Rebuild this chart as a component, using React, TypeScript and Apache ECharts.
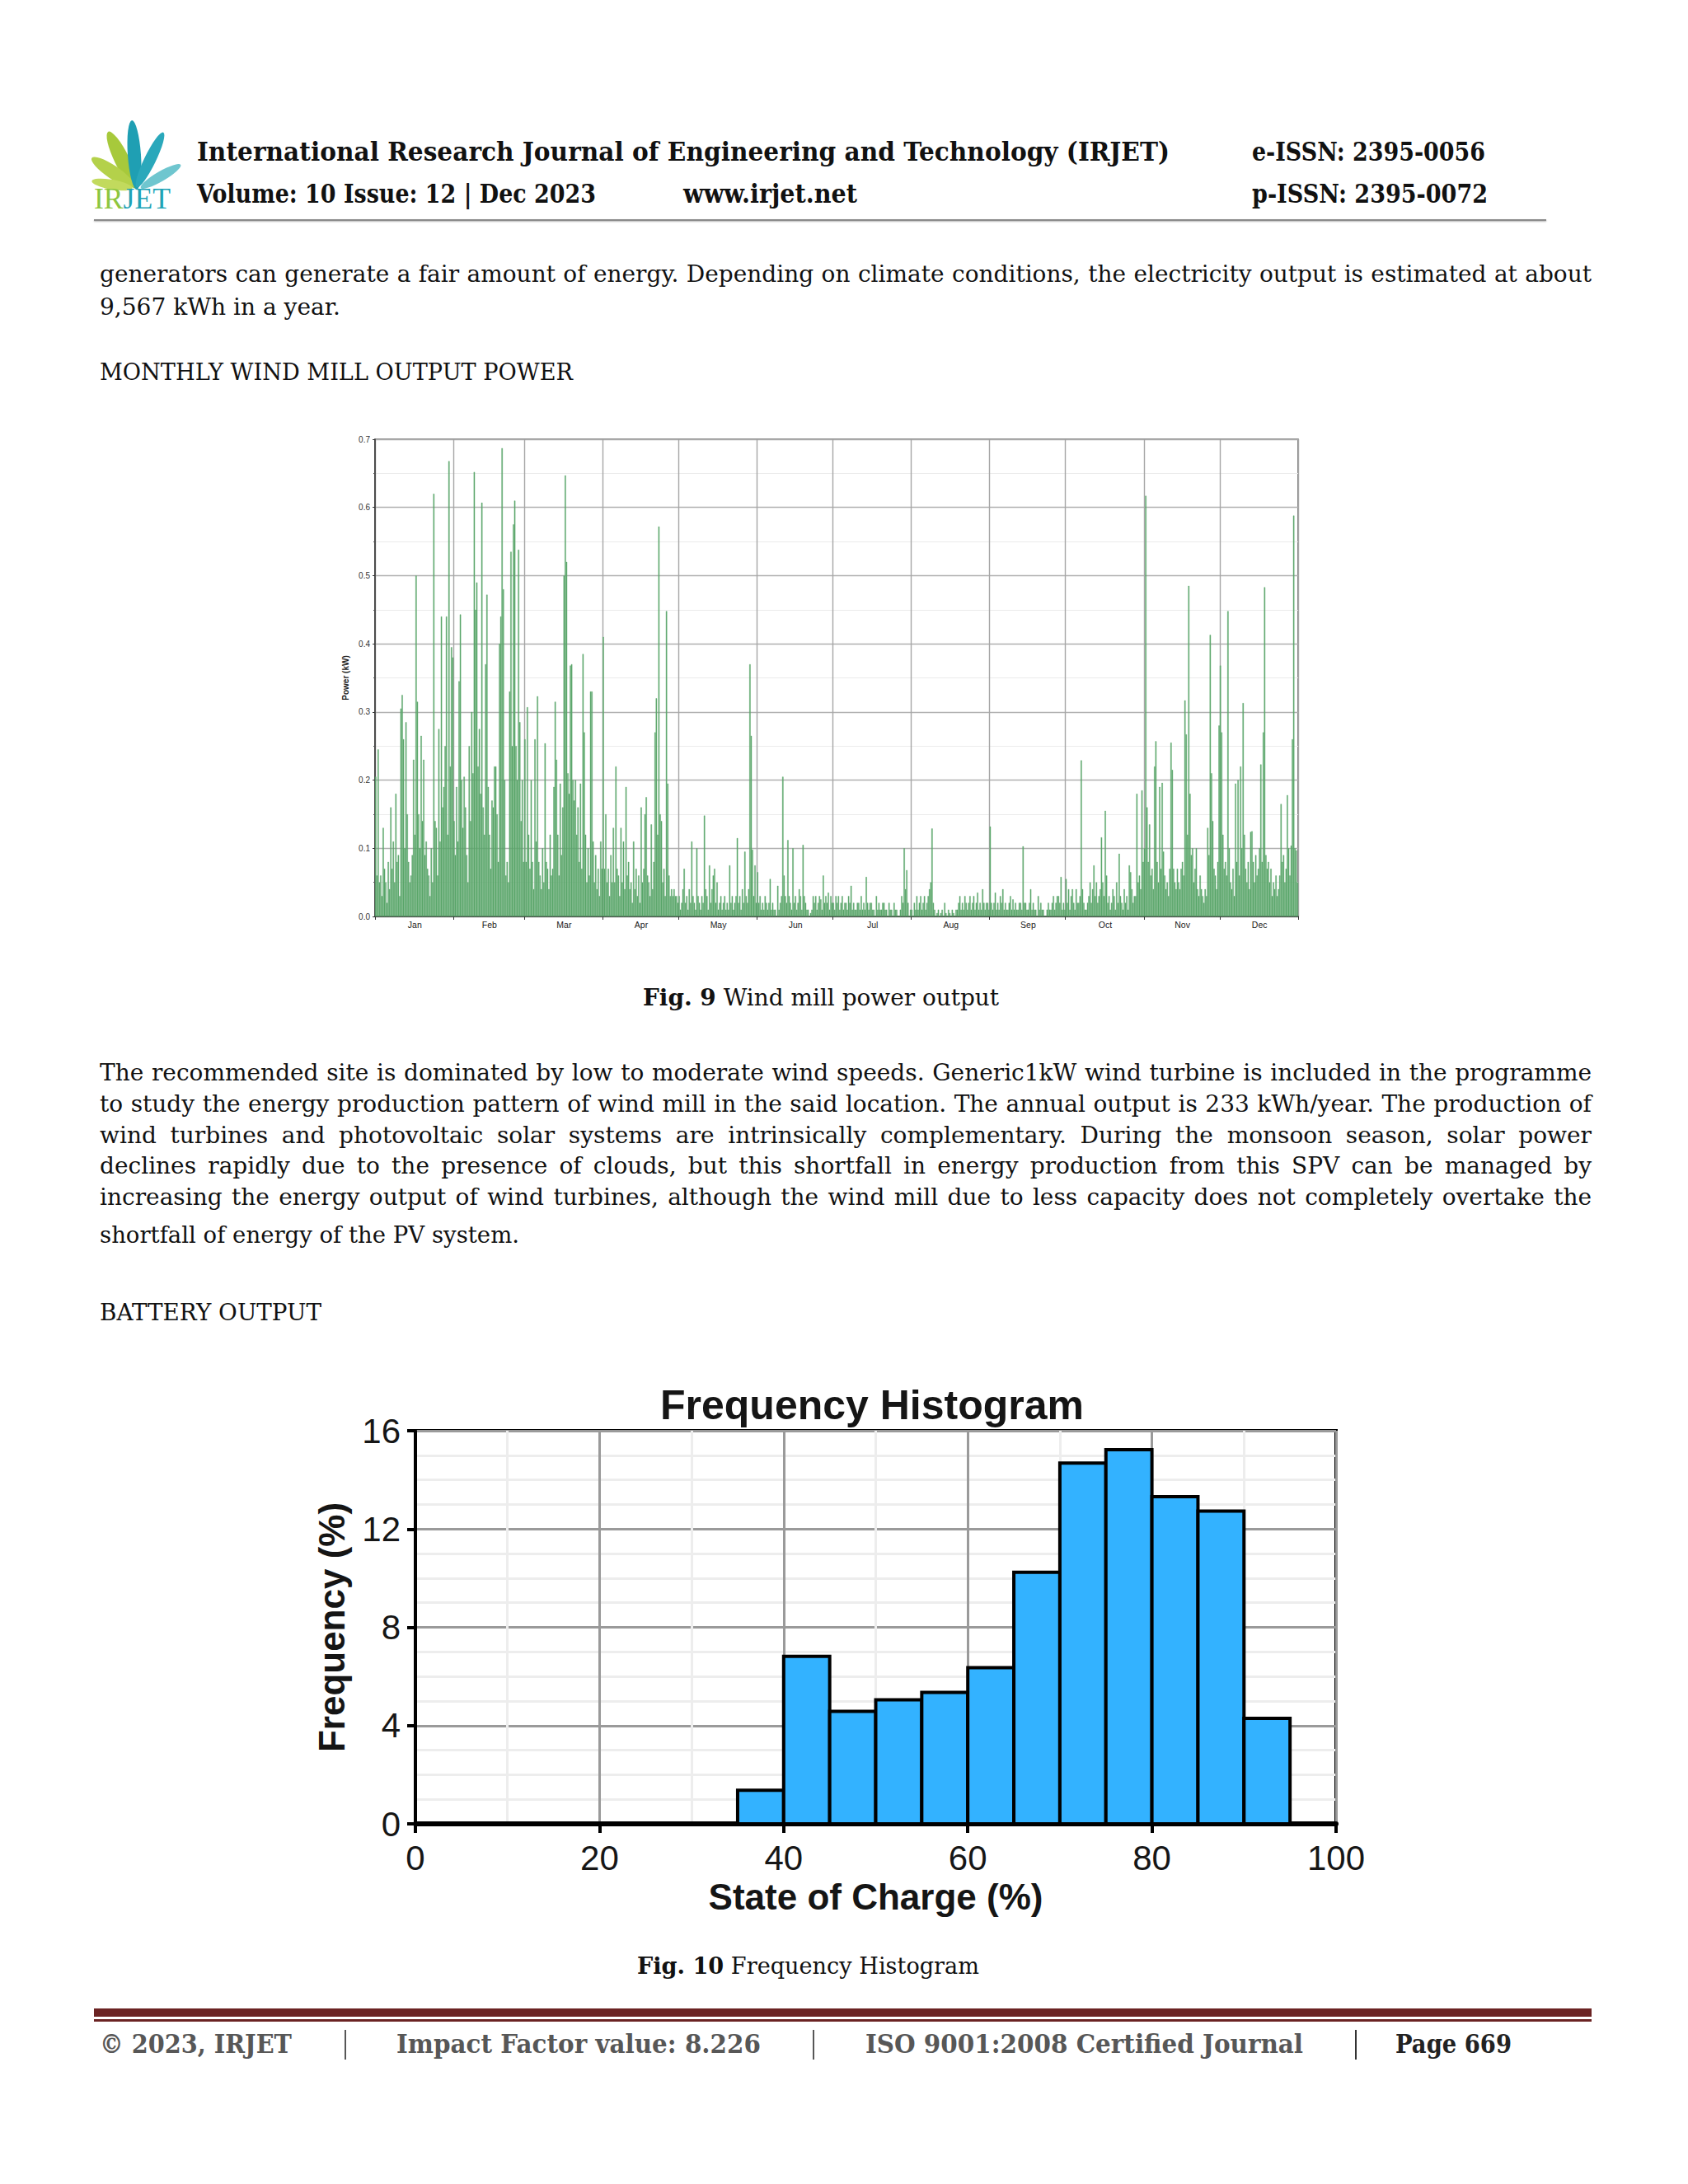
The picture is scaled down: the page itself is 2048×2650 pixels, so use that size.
import React, { useEffect, useLayoutEffect, useRef } from "react";
import * as echarts from "echarts";

// ---------------- DATA ----------------
const monthNames = ["Jan", "Feb", "Mar", "Apr", "May", "Jun", "Jul", "Aug", "Sep", "Oct", "Nov", "Dec"];
const monthDays = [31, 28, 31, 30, 31, 30, 31, 31, 30, 31, 30, 31];
const SLOTS_PER_DAY = 2; // two readings per day (kW)

const janPower = [
  0.205, 0.06, 0.245, 0.05, 0.06, 0.03, 0.13, 0.07, 0.05, 0.02,
  0.08, 0.04, 0.16, 0.07, 0.11, 0.05, 0.18, 0.08, 0.09, 0.03,
  0.305, 0.325, 0.26, 0.1, 0.285, 0.15, 0.08, 0.05, 0.06, 0.09,
  0.23, 0.12, 0.5, 0.315, 0.15, 0.1, 0.265, 0.14, 0.23, 0.09,
  0.11, 0.07, 0.06, 0.03, 0.1, 0.05, 0.62, 0.14, 0.13, 0.06,
  0.275, 0.11, 0.44, 0.16, 0.19, 0.25, 0.44, 0.12, 0.668, 0.22,
  0.395, 0.38,
];
const febPower = [
  0.14, 0.09, 0.19, 0.11, 0.345, 0.443, 0.2, 0.13, 0.205, 0.16,
  0.09, 0.05, 0.25, 0.14, 0.3, 0.21, 0.652, 0.45, 0.49, 0.22,
  0.275, 0.18, 0.607, 0.16, 0.12, 0.37, 0.472, 0.19, 0.12, 0.07,
  0.17, 0.16, 0.22, 0.22, 0.15, 0.08, 0.4, 0.44, 0.687, 0.48,
  0.2, 0.06, 0.08, 0.05, 0.33, 0.535, 0.25, 0.575, 0.61, 0.25,
  0.2, 0.538, 0.285, 0.14, 0.2, 0.08,
];
const marPower = [
  0.26, 0.08, 0.307, 0.12, 0.07, 0.2, 0.08, 0.04, 0.26, 0.11,
  0.323, 0.08, 0.06, 0.04, 0.1, 0.05, 0.254, 0.08, 0.07, 0.04,
  0.12, 0.06, 0.07, 0.19, 0.315, 0.23, 0.12, 0.06, 0.195, 0.09,
  0.16, 0.5, 0.647, 0.52, 0.21, 0.18, 0.368, 0.37, 0.2, 0.17,
  0.2, 0.12, 0.16, 0.08, 0.195, 0.07, 0.385, 0.27, 0.12, 0.05,
  0.1, 0.06, 0.33, 0.33, 0.11, 0.05, 0.09, 0.04, 0.07, 0.03,
  0.11, 0.07,
];
const aprPower = [
  0.41, 0.07, 0.15, 0.05, 0.07, 0.03, 0.09, 0.05, 0.13, 0.05,
  0.22, 0.07, 0.06, 0.03, 0.13, 0.05, 0.11, 0.04, 0.19, 0.06,
  0.08, 0.04, 0.05, 0.02, 0.11, 0.04, 0.07, 0.03, 0.06, 0.02,
  0.16, 0.05, 0.07, 0.15, 0.175, 0.06, 0.05, 0.03, 0.135, 0.04,
  0.08, 0.27, 0.32, 0.12, 0.572, 0.15, 0.14, 0.05, 0.07, 0.03,
  0.448, 0.195, 0.06, 0.03, 0.04, 0.03, 0.04, 0.03, 0.03, 0.02,
];
const mayPower = [
  0.03, 0.01, 0.02, 0.04, 0.07, 0.02, 0.03, 0.01, 0.04, 0.02,
  0.11, 0.03, 0.02, 0.01, 0.1, 0.03, 0.02, 0.01, 0.03, 0.02,
  0.148, 0.04, 0.03, 0.01, 0.075, 0.02, 0.04, 0.06, 0.07, 0.02,
  0.05, 0.01, 0.02, 0.03, 0.01, 0.02, 0.03, 0.01, 0.02, 0.01,
  0.075, 0.02, 0.03, 0.01, 0.02, 0.03, 0.115, 0.02, 0.03, 0.01,
  0.04, 0.02, 0.095, 0.03, 0.02, 0.04, 0.37, 0.265, 0.098, 0.03,
  0.075, 0.02,
];
const junPower = [
  0.065, 0.02, 0.03, 0.01, 0.02, 0.01, 0.03, 0.02, 0.01, 0.02,
  0.055, 0.01, 0.02, 0.01, 0.01, 0.0, 0.045, 0.01, 0.02, 0.03,
  0.205, 0.06, 0.03, 0.02, 0.112, 0.03, 0.02, 0.01, 0.1, 0.02,
  0.03, 0.01, 0.02, 0.04, 0.03, 0.01, 0.105, 0.03, 0.02, 0.01,
  0.01, 0.0, 0.005, 0.01, 0.03, 0.02, 0.03, 0.01, 0.02, 0.03,
  0.025, 0.01, 0.06, 0.02, 0.03, 0.02, 0.035, 0.01, 0.03, 0.02,
];
const julPower = [
  0.02, 0.01, 0.03, 0.02, 0.03, 0.01, 0.02, 0.03, 0.01, 0.02,
  0.02, 0.01, 0.03, 0.02, 0.045, 0.01, 0.02, 0.01, 0.01, 0.02,
  0.02, 0.01, 0.03, 0.01, 0.02, 0.01, 0.058, 0.02, 0.01, 0.02,
  0.02, 0.01, 0.01, 0.0, 0.03, 0.01, 0.02, 0.01, 0.01, 0.02,
  0.02, 0.01, 0.01, 0.0, 0.02, 0.01, 0.01, 0.0, 0.02, 0.01,
  0.01, 0.0, 0.0, 0.01, 0.03, 0.02, 0.1, 0.04, 0.068, 0.02,
  0.0, 0.01,
];
const augPower = [
  0.01, 0.0, 0.02, 0.01, 0.03, 0.01, 0.02, 0.03, 0.01, 0.02,
  0.03, 0.01, 0.02, 0.03, 0.04, 0.05, 0.129, 0.02, 0.01, 0.0,
  0.005, 0.01, 0.0, 0.005, 0.01, 0.0, 0.02, 0.005, 0.0, 0.01,
  0.005, 0.0, 0.01, 0.005, 0.0, 0.01, 0.01, 0.02, 0.03, 0.01,
  0.02, 0.01, 0.03, 0.02, 0.01, 0.02, 0.03, 0.01, 0.02, 0.03,
  0.01, 0.02, 0.035, 0.01, 0.02, 0.01, 0.04, 0.02, 0.01, 0.02,
  0.02, 0.01,
];
const sepPower = [
  0.132, 0.02, 0.01, 0.02, 0.035, 0.01, 0.02, 0.01, 0.03, 0.02,
  0.04, 0.01, 0.02, 0.01, 0.01, 0.02, 0.03, 0.01, 0.025, 0.01,
  0.02, 0.01, 0.01, 0.02, 0.02, 0.01, 0.103, 0.02, 0.02, 0.01,
  0.01, 0.02, 0.04, 0.01, 0.02, 0.01, 0.01, 0.0, 0.03, 0.01,
  0.02, 0.01, 0.01, 0.0, 0.0, 0.01, 0.02, 0.01, 0.01, 0.02,
  0.03, 0.01, 0.02, 0.03, 0.03, 0.02, 0.058, 0.01, 0.02, 0.01,
];
const octPower = [
  0.055, 0.02, 0.04, 0.01, 0.03, 0.04, 0.02, 0.01, 0.04, 0.02,
  0.02, 0.03, 0.229, 0.04, 0.02, 0.01, 0.01, 0.02, 0.03, 0.05,
  0.02, 0.04, 0.075, 0.03, 0.05, 0.02, 0.03, 0.04, 0.116, 0.05,
  0.03, 0.155, 0.06, 0.02, 0.03, 0.01, 0.02, 0.04, 0.03, 0.01,
  0.05, 0.02, 0.092, 0.03, 0.02, 0.01, 0.04, 0.02, 0.03, 0.01,
  0.075, 0.065, 0.04, 0.02, 0.03, 0.03, 0.18, 0.05, 0.06, 0.04,
  0.185, 0.08,
];
const novPower = [
  0.1, 0.617, 0.16, 0.08, 0.135, 0.06, 0.07, 0.04, 0.22, 0.257,
  0.08, 0.05, 0.19, 0.07, 0.196, 0.095, 0.06, 0.04, 0.05, 0.03,
  0.07, 0.255, 0.215, 0.07, 0.05, 0.04, 0.07, 0.05, 0.04, 0.07,
  0.08, 0.06, 0.317, 0.267, 0.12, 0.485, 0.18, 0.09, 0.1, 0.05,
  0.07, 0.1, 0.04, 0.03, 0.06, 0.04, 0.03, 0.02, 0.04, 0.03,
  0.13, 0.09, 0.413, 0.21, 0.14, 0.07, 0.06, 0.04, 0.08, 0.28,
];
const decPower = [
  0.368, 0.27, 0.12, 0.07, 0.08, 0.06, 0.448, 0.1, 0.05, 0.04,
  0.07, 0.03, 0.195, 0.08, 0.2, 0.06, 0.22, 0.1, 0.313, 0.12,
  0.07, 0.05, 0.08, 0.04, 0.124, 0.125, 0.08, 0.05, 0.09, 0.06,
  0.07, 0.1, 0.223, 0.08, 0.27, 0.483, 0.09, 0.07, 0.08, 0.05,
  0.07, 0.03, 0.05, 0.04, 0.06, 0.03, 0.04, 0.06, 0.165, 0.08,
  0.09, 0.05, 0.07, 0.178, 0.1, 0.06, 0.104, 0.26, 0.588, 0.1,
  0.097, 0.05,
];
const monthlyPower = [janPower, febPower, marPower, aprPower, mayPower, junPower, julPower, augPower, sepPower, octPower, novPower, decPower];
const powerTicks = [0, 0.1, 0.2, 0.3, 0.4, 0.5, 0.6, 0.7];

const socBinStart = [35, 40, 45, 50, 55, 60, 65, 70, 75, 80, 85, 90];
const socFrequency = [1.37, 6.82, 4.58, 5.05, 5.35, 6.36, 10.24, 14.68, 15.23, 13.32, 12.73, 4.29];
const SOC_BIN_WIDTH = 5;
const socTicks = [0, 20, 40, 60, 80, 100];
const freqTicks = [0, 4, 8, 12, 16];

// ---------------- PAGE TEXT ----------------
const SERIF = '"DejaVu Serif", "Liberation Serif", serif';
const SANS = '"Liberation Sans", Arial, sans-serif';

type LineProps = {
  x: number;
  base: number;
  w: number;
  size: number;
  bold?: boolean;
  color?: string;
  justify?: boolean;
  children: React.ReactNode;
};

function TextLine({ x, base, w, size, bold, color, justify, children }: LineProps) {
  const ref = useRef<HTMLSpanElement>(null);
  useLayoutEffect(() => {
    const fit = () => {
      const s = ref.current;
      if (!s) return;
      s.style.transform = "";
      s.style.display = "inline-block";
      s.style.width = "";
      s.style.whiteSpace = "nowrap";
      s.style.textAlign = "";
      (s.style as any).textAlignLast = "";
      const natural = s.getBoundingClientRect().width;
      if (!natural) return;
      if (justify && natural <= w) {
        s.style.display = "block";
        s.style.width = w + "px";
        s.style.whiteSpace = "normal";
        s.style.textAlign = "justify";
        (s.style as any).textAlignLast = "justify";
      } else {
        s.style.transform = `scaleX(${w / natural})`;
      }
    };
    fit();
    if ((document as any).fonts && (document as any).fonts.ready) {
      (document as any).fonts.ready.then(fit);
    }
  }, [w, justify]);
  return (
    <div
      style={{
        position: "absolute",
        left: x,
        top: base - 0.846 * size,
        fontFamily: SERIF,
        fontSize: size,
        lineHeight: `${size}px`,
        fontWeight: bold ? 700 : 400,
        color: color || "#111",
        whiteSpace: "nowrap",
      }}
    >
      <span ref={ref} style={{ display: "inline-block", transformOrigin: "0 0" }}>
        {children}
      </span>
    </div>
  );
}

function Logo() {
  const leaves = [
    { cx: 148, cy: 194, rx: 9, ry: 38, a: -26, c: "#a7c93b" },
    { cx: 137, cy: 209, rx: 8, ry: 31, a: -56, c: "#b4d14a" },
    { cx: 136, cy: 224, rx: 6, ry: 25, a: -80, c: "#c2da5d" },
    { cx: 163, cy: 188, rx: 8, ry: 42, a: -4, c: "#1f9fb3" },
    { cx: 182, cy: 194, rx: 7, ry: 37, a: 26, c: "#2aa8bb" },
    { cx: 195, cy: 214, rx: 6, ry: 28, a: 60, c: "#6fc6cf" },
  ];
  return (
    <svg
      style={{ position: "absolute", left: 100, top: 140, width: 130, height: 120 }}
      viewBox="100 140 130 120"
    >
      {leaves.map((l, i) => (
        <ellipse
          key={i}
          cx={l.cx}
          cy={l.cy}
          rx={l.rx}
          ry={l.ry}
          fill={l.c}
          transform={`rotate(${l.a} ${l.cx} ${l.cy})`}
        />
      ))}
      <text x={114} y={253} fontFamily='"Liberation Serif", serif' fontSize={36} textLength={93} lengthAdjust="spacingAndGlyphs">
        <tspan fill="#8dc63f">IR</tspan>
        <tspan fill="#21a3b6">JET</tspan>
      </text>
    </svg>
  );
}

// ---------------- CHARTS ----------------
function WindChart() {
  const ref = useRef<HTMLDivElement>(null);
  useEffect(() => {
    if (!ref.current) return;
    const chart = echarts.init(ref.current, undefined, { renderer: "svg" });
    const power: number[] = [];
    monthlyPower.forEach((m) => m.forEach((v) => power.push(v)));
    const categories = power.map((_, i) => String(i));
    const startSlots = new Set<number>();
    const midSlot = new Map<number, string>();
    let acc = 0;
    monthDays.forEach((d, i) => {
      startSlots.add(acc * SLOTS_PER_DAY);
      midSlot.set(Math.round((acc + d / 2) * SLOTS_PER_DAY), monthNames[i]);
      acc += d;
    });
    chart.setOption({
      animation: false,
      grid: {
        left: 55,
        top: 23,
        width: 1120,
        height: 579,
        show: true,
        borderColor: "#555",
        borderWidth: 1.5,
        backgroundColor: "transparent",
      },
      xAxis: {
        type: "category",
        data: categories,
        boundaryGap: true,
        axisLine: { lineStyle: { color: "#333", width: 1.5 } },
        axisTick: {
          show: true,
          length: 4,
          interval: (i: number) => startSlots.has(i),
          lineStyle: { color: "#333", width: 1 },
        },
        axisLabel: {
          interval: (i: number) => midSlot.has(i),
          formatter: (v: string) => midSlot.get(Number(v)) || "",
          fontSize: 10.5,
          fontFamily: SANS,
          color: "#222",
          margin: 4,
        },
        splitLine: {
          show: true,
          interval: (i: number) => startSlots.has(i),
          lineStyle: { color: "#a6a6a6", width: 1.4 },
        },
      },
      yAxis: {
        type: "value",
        min: powerTicks[0],
        max: powerTicks[powerTicks.length - 1],
        interval: 0.1,
        name: "Power (kW)",
        nameLocation: "middle",
        nameGap: 16,
        nameTextStyle: { fontSize: 10, fontWeight: "bold", fontFamily: SANS, color: "#222" },
        axisLine: { show: true, lineStyle: { color: "#333", width: 1.5 } },
        axisTick: { show: true, length: 3, lineStyle: { color: "#333" } },
        minorTick: { show: true, splitNumber: 2, length: 2, lineStyle: { color: "#555" } },
        axisLabel: {
          formatter: (v: number) => v.toFixed(1),
          fontSize: 10,
          fontFamily: SANS,
          color: "#333",
          margin: 6,
        },
        splitLine: { show: true, lineStyle: { color: "#b0b0b0", width: 1.3 } },
        minorSplitLine: { show: true, lineStyle: { color: "#ebebeb", width: 1 } },
      },
      series: [
        {
          type: "bar",
          data: power,
          barCategoryGap: "0%",
          barGap: "0%",
          itemStyle: { color: "#5aa66b", borderColor: "#5aa66b", borderWidth: 0.4 },
          silent: true,
        },
      ],
    });
    return () => chart.dispose();
  }, []);
  return <div ref={ref} style={{ position: "absolute", left: 400, top: 510, width: 1200, height: 640 }} />;
}

function HistChart() {
  const ref = useRef<HTMLDivElement>(null);
  useEffect(() => {
    if (!ref.current) return;
    const chart = echarts.init(ref.current, undefined, { renderer: "svg" });
    const data = socBinStart.map((s, i) => [s, s + SOC_BIN_WIDTH, socFrequency[i]]);
    chart.setOption({
      animation: false,
      grid: {
        left: 144,
        top: 66,
        width: 1117,
        height: 477,
        show: true,
        borderColor: "#000",
        borderWidth: 4,
        backgroundColor: "transparent",
      },
      graphic: [
        {
          type: "text",
          x: 698,
          y: 35,
          style: {
            text: "Frequency Histogram",
            fontSize: 50,
            fontWeight: "bold",
            fontFamily: SANS,
            fill: "#151515",
            textAlign: "center",
            textVerticalAlign: "middle",
          },
          z: 10,
        },
      ],
      xAxis: {
        type: "value",
        min: socTicks[0],
        max: socTicks[socTicks.length - 1],
        interval: 20,
        name: "State of Charge (%)",
        nameLocation: "middle",
        nameGap: 66,
        nameTextStyle: { fontSize: 44, fontWeight: "bold", fontFamily: SANS, color: "#151515" },
        axisLine: { lineStyle: { color: "#000", width: 6 } },
        axisTick: { show: true, length: 11, lineStyle: { color: "#000", width: 4 } },
        minorTick: { show: false, splitNumber: 2 },
        axisLabel: { fontSize: 42, fontFamily: SANS, color: "#161616", margin: 20 },
        splitLine: { show: true, lineStyle: { color: "#9a9a9a", width: 3 } },
        minorSplitLine: { show: true, lineStyle: { color: "#ededed", width: 3 } },
      },
      yAxis: {
        type: "value",
        min: freqTicks[0],
        max: freqTicks[freqTicks.length - 1],
        interval: 4,
        name: "Frequency (%)",
        nameLocation: "middle",
        nameGap: 80,
        nameTextStyle: { fontSize: 44, fontWeight: "bold", fontFamily: SANS, color: "#151515" },
        axisLine: { show: true, lineStyle: { color: "#000", width: 4 } },
        axisTick: { show: true, length: 10, lineStyle: { color: "#000", width: 4 } },
        minorTick: { show: false, splitNumber: 4 },
        axisLabel: { fontSize: 42, fontFamily: SANS, color: "#161616", margin: 18 },
        splitLine: { show: true, lineStyle: { color: "#9a9a9a", width: 3 } },
        minorSplitLine: { show: true, lineStyle: { color: "#ededed", width: 3 } },
      },
      series: [
        {
          type: "custom",
          data,
          encode: { x: [0, 1], y: 2 },
          renderItem: (params: any, api: any) => {
            const p0 = api.coord([api.value(0), api.value(2)]);
            const p1 = api.coord([api.value(1), 0]);
            return {
              type: "rect",
              shape: { x: p0[0], y: p0[1], width: p1[0] - p0[0], height: p1[1] - p0[1] },
              style: { fill: "#33b2ff", stroke: "#000", lineWidth: 4 },
            };
          },
          silent: true,
        },
      ],
    });
    return () => chart.dispose();
  }, []);
  return <div ref={ref} style={{ position: "absolute", left: 360, top: 1670, width: 1320, height: 700 }} />;
}

// ---------------- APP ----------------
export default function App() {
  const FOOT = "#575757";
  return (
    <div
      style={{
        position: "absolute",
        left: 0,
        top: 0,
        width: 2048,
        height: 2650,
        background: "#fff",
        overflow: "hidden",
      }}
    >
      <Logo />
      <TextLine x={239} base={195} w={1180} size={31} bold color="#111">
        International Research Journal of Engineering and Technology (IRJET)
      </TextLine>
      <TextLine x={1519} base={195} w={283} size={31} bold color="#111">
        e-ISSN: 2395-0056
      </TextLine>
      <TextLine x={239} base={246} w={484} size={31} bold color="#111">
        Volume: 10 Issue: 12 | Dec 2023
      </TextLine>
      <TextLine x={829} base={246} w={211} size={31} bold color="#111">
        www.irjet.net
      </TextLine>
      <TextLine x={1519} base={246} w={286} size={31} bold color="#111">
        p-ISSN: 2395-0072
      </TextLine>
      <div
        style={{
          position: "absolute",
          left: 114,
          top: 266,
          width: 1762,
          height: 2,
          background: "#8a8a8a",
          boxShadow: "0 1px 2px rgba(0,0,0,0.3)",
        }}
      />

      <TextLine x={121} base={343} w={1810} size={28} justify>
        generators can generate a fair amount of energy. Depending on climate conditions, the electricity output is estimated at about
      </TextLine>
      <TextLine x={121} base={383} w={292} size={28}>
        9,567 kWh in a year.
      </TextLine>
      <TextLine x={121} base={462} w={574} size={28}>
        MONTHLY WIND MILL OUTPUT POWER
      </TextLine>

      <WindChart />

      <TextLine x={780} base={1221} w={432} size={28}>
        <b>Fig. 9</b> Wind mill power output
      </TextLine>

      <TextLine x={121} base={1312} w={1810} size={28} justify>
        The recommended site is dominated by low to moderate wind speeds. Generic1kW wind turbine is included in the programme
      </TextLine>
      <TextLine x={121} base={1350} w={1810} size={28} justify>
        to study the energy production pattern of wind mill in the said location. The annual output is 233 kWh/year. The production of
      </TextLine>
      <TextLine x={121} base={1388} w={1810} size={28} justify>
        wind turbines and photovoltaic solar systems are intrinsically complementary. During the monsoon season, solar power
      </TextLine>
      <TextLine x={121} base={1425} w={1810} size={28} justify>
        declines rapidly due to the presence of clouds, but this shortfall in energy production from this SPV can be managed by
      </TextLine>
      <TextLine x={121} base={1463} w={1810} size={28} justify>
        increasing the energy output of wind turbines, although the wind mill due to less capacity does not completely overtake the
      </TextLine>
      <TextLine x={121} base={1509} w={509} size={28}>
        shortfall of energy of the PV system.
      </TextLine>
      <TextLine x={121} base={1603} w={269} size={28}>
        BATTERY OUTPUT
      </TextLine>

      <HistChart />

      <TextLine x={773} base={2396} w={415} size={28}>
        <b>Fig. 10</b> Frequency Histogram
      </TextLine>

      <div style={{ position: "absolute", left: 114, top: 2437, width: 1817, height: 10, background: "#6b2323" }} />
      <div style={{ position: "absolute", left: 114, top: 2450, width: 1817, height: 3, background: "#6b2323" }} />

      <TextLine x={121} base={2491} w={233} size={31} bold color={FOOT}>
        © 2023, IRJET
      </TextLine>
      <div style={{ position: "absolute", left: 418, top: 2463, width: 2, height: 36, background: FOOT }} />
      <TextLine x={481} base={2491} w={442} size={31} bold color={FOOT}>
        Impact Factor value: 8.226
      </TextLine>
      <div style={{ position: "absolute", left: 986, top: 2463, width: 2, height: 36, background: FOOT }} />
      <TextLine x={1050} base={2491} w={531} size={31} bold color={FOOT}>
        ISO 9001:2008 Certified Journal
      </TextLine>
      <div style={{ position: "absolute", left: 1644, top: 2463, width: 2, height: 36, background: "#333" }} />
      <TextLine x={1693} base={2491} w={141} size={31} bold color="#222">
        Page 669
      </TextLine>
    </div>
  );
}
